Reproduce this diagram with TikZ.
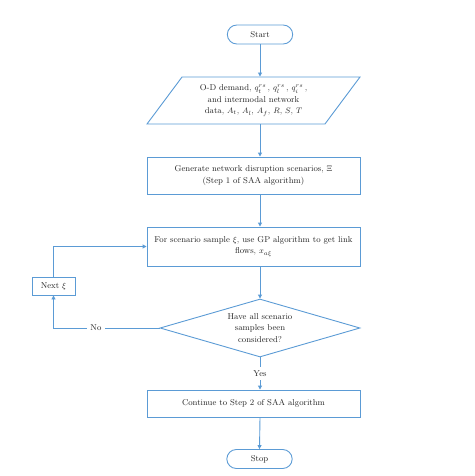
\documentclass[tikz,border=0pt]{standalone}
\usepackage{amsmath}
\usepackage{tikz}
\usetikzlibrary{positioning,shapes.geometric,shapes.misc,arrows.meta}
\definecolor{flowblue}{RGB}{91,155,213}

\begin{document}
\begin{tikzpicture}[x=1pt, y=-1pt,
    every node/.style={font=\fontsize{8.5}{11.5}\selectfont, text=black!85},
    line/.style={draw=flowblue, line width=0.9pt},
    >={Triangle[length=4pt, width=4pt]},
    box/.style={rectangle, draw=flowblue, line width=0.9pt, fill=white, align=center, minimum width=213pt},
    term/.style={rounded rectangle, draw=flowblue, line width=0.9pt, minimum width=72pt, minimum height=19pt},
    io/.style={trapezium, draw=flowblue, line width=0.9pt, align=center, trapezium left angle=47.5,
        trapezium right angle=132.5, trapezium stretches body=true,
        minimum width=213pt, minimum height=47pt},
    decision/.style={diamond, draw=flowblue, line width=0.9pt, align=center, inner sep=0pt, aspect=3.45,
        minimum width=200pt, minimum height=58pt}]
\useasboundingbox (0,0) rectangle (474,476);
%Nodes
\node[term]     (start)     at (260,34.5)   {Start};
\node[io]       (data)      at (253.5,100.5)
    {O-D demand, $q_t^{rs}\,$, $q_l^{rs}\,$, $q_i^{rs}\,$,\\and intermodal network\\data, $A_t$, $A_l$, $A_f$, $R$, $S$, $T$};
\node[box, minimum height=37pt] (gen)   at (253.5,175.5)
    {Generate network disruption scenarios, $\Xi$\\(Step 1 of SAA algorithm)};
\node[box, minimum height=39pt] (flow)  at (253.5,246.5)
    {For scenario sample $\xi$, use GP algorithm to get link\\flows, $x_{a\xi}$};
\node[decision] (check)     at (260,328)    {Have all scenario\\samples been\\considered?};
\node[box, minimum height=27pt] (cont)  at (253.5,403.5) {Continue to Step 2 of SAA algorithm};
\node[term]     (stop)      at (259.5,459)  {Stop};
\node[box, minimum width=43pt, minimum height=18pt] (next) at (53.5,286) {Next $\xi$};

%Lines
\draw[line, ->]   (start.south) -- (start |- data.north);
\draw[line, ->]   (start |- data.south) -- (start |- gen.north);
\draw[line, ->]   (start |- gen.south) -- (start |- flow.north);
\draw[line, ->]   (start |- flow.south) -- (check.north);
\draw[line, ->]   (check.south) -- (check |- cont.north)
    node[midway, fill=white]{Yes};
\draw[line, ->]   (check |- cont.south) -- (stop.north);
\draw[line, ->]   (check.west) -- (next |- check.west)
    node[pos=0.6, fill=white]{No} -- (next.south);
\draw[line, ->]   (next.north) |- (flow.west);
\end{tikzpicture}
\end{document}
